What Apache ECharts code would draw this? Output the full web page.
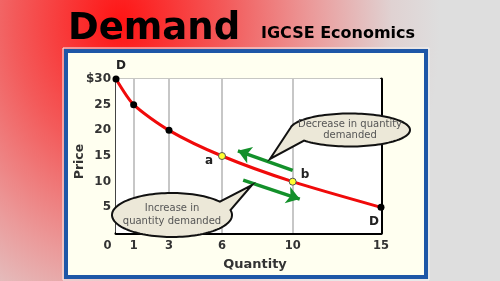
<!DOCTYPE html>
<html><head><meta charset="utf-8">
<script src="https://cdn.jsdelivr.net/npm/echarts@6/dist/echarts.min.js"></script>
<style>
html,body{margin:0;padding:0;width:500px;height:281px;overflow:hidden;}
body{background: radial-gradient(ellipse 320px 400px at 120px 22px, #ff1414 0%, #f35a5a 33%, #eb9a9a 60%, #e0d2d2 85%, #dedede 100%);}
#c{width:500px;height:281px;}
</style></head><body><div id="c"></div>
<script>
// ---- data ----
const quantity = [0, 1, 3, 6, 10, 15];
const price = [30, 25, 20, 15, 10, 5];
const pointLabels = ['D', '', '', 'a', 'b', 'D'];
const movePoints = [false, false, false, true, true, false];
const xTicks = [0, 1, 3, 6, 10, 15];
const yTicks = [0, 5, 10, 15, 20, 25, 30];
const yTickText = ['', '5', '10', '15', '20', '25', '$30'];
const decreaseArrow = [[10, 12.2], [6.9, 16]];
const increaseArrow = [[7.2, 10.3], [10.4, 6.6]];
const titleText = 'Demand';
const subtitleText = 'IGCSE Economics';
const decreaseText = 'Decrease in quantity\ndemanded';
const increaseText = 'Increase in\nquantity demanded';

// ---- styling ----
const labelPlacement = [
  {position: 'top', offset: [5, 1]},
  {}, {},
  {position: 'left', offset: [0, 5]},
  {position: 'right', offset: [-1, -7]},
  {position: 'bottom', offset: [-7, 0]}
];
const FONT = 'DejaVu Sans';

function calloutPoints(cx, cy, rx, ry, gapFrom, gapTo, tip) {
  const pts = [];
  const end = gapFrom + 360;
  for (let a = gapTo; a < end; a += 3) {
    const r = a * Math.PI / 180;
    pts.push([cx + rx * Math.cos(r), cy + ry * Math.sin(r)]);
  }
  const r = end * Math.PI / 180;
  pts.push([cx + rx * Math.cos(r), cy + ry * Math.sin(r)]);
  pts.push(tip);
  return pts;
}

const curveData = quantity.map((q, i) => {
  const item = {value: [q, price[i]]};
  if (movePoints[i]) {
    item.symbolSize = 7;
    item.itemStyle = {color: '#ffff30', borderColor: '#555', borderWidth: 1};
  }
  if (pointLabels[i]) {
    item.label = Object.assign({show: true, formatter: pointLabels[i]}, labelPlacement[i]);
  }
  return item;
});

const chart = echarts.init(document.getElementById('c'), null, {renderer: 'canvas'});
chart.setOption({
  backgroundColor: 'transparent',
  animation: false,
  grid: {left: 116, top: 79, width: 265, height: 154, show: true, backgroundColor: '#ffffff', borderWidth: 0, z: 1},
  xAxis: {
    type: 'value', min: 0, max: 15,
    name: 'Quantity', nameLocation: 'middle', nameGap: 25,
    nameTextStyle: {fontFamily: FONT, fontWeight: 'bold', fontSize: 13, color: '#333', padding: [0, 0, 0, 13]},
    axisLine: {show: true, onZero: false, lineStyle: {color: '#000', width: 3}},
    axisTick: {show: false},
    splitLine: {show: false},
    axisLabel: {
      customValues: xTicks, margin: 7,
      fontFamily: FONT, fontWeight: 'bold', fontSize: 11.5, color: '#333',
      formatter: v => v === 0 ? '{z|0}' : String(v),
      rich: {z: {fontFamily: FONT, fontWeight: 'bold', fontSize: 11.5, color: '#333', padding: [0, 17, 0, 0]}}
    }
  },
  yAxis: [{
    type: 'value', min: 0, max: 30, interval: 5,
    name: 'Price', nameLocation: 'middle', nameGap: 30, nameRotate: 90, nameMoveOverlap: false,
    nameTextStyle: {fontFamily: FONT, fontWeight: 'bold', fontSize: 12.5, color: '#333', padding: [0, 0, 0, -11]},
    axisLine: {show: true, onZero: false, lineStyle: {color: '#444', width: 2}},
    axisTick: {show: false},
    splitLine: {show: true, lineStyle: {color: '#b4b4b4', width: 1.5}},
    axisLabel: {
      margin: 5, fontFamily: FONT, fontWeight: 'bold', fontSize: 12, color: '#333',
      formatter: v => yTickText[yTicks.indexOf(v)] || ''
    }
  }, {
    type: 'value', min: 0, max: 30, position: 'right',
    axisLine: {show: true, onZero: false, lineStyle: {color: '#000', width: 3}},
    axisTick: {show: false}, axisLabel: {show: false}, splitLine: {show: false}
  }],
  series: [
    {
      type: 'line', data: [], z: 1, silent: true,
      markLine: {
        silent: true, symbol: 'none', label: {show: false},
        lineStyle: {color: '#b4b4b4', width: 1.5, type: 'solid'},
        data: xTicks.filter(v => v > 0 && v < 15).map(v => ({xAxis: v}))
      }
    },
    {
      type: 'line', data: [], z: 4, silent: true,
      markLine: {
        silent: true, symbol: ['none', 'arrow'], symbolSize: [13, 13], label: {show: false},
        lineStyle: {color: '#13902a', width: 3.5, type: 'solid'},
        data: [
          [{coord: decreaseArrow[0]}, {coord: decreaseArrow[1]}],
          [{coord: increaseArrow[0]}, {coord: increaseArrow[1]}]
        ]
      }
    },
    {
      type: 'line', data: curveData, smooth: 0.25, z: 5,
      lineStyle: {color: '#f00a0a', width: 3},
      symbol: 'circle', symbolSize: 7, showAllSymbol: true,
      itemStyle: {color: '#000'},
      label: {fontFamily: FONT, fontWeight: 'bold', fontSize: 12, color: '#222'}
    }
  ],
  graphic: [
    {type: 'text', left: 68, top: 11, z: 50, style: {text: titleText, fontFamily: FONT, fontWeight: 'bold', fontSize: 37, fill: '#000'}},
    {type: 'text', left: 261, top: 26, z: 50, style: {text: subtitleText, fontFamily: FONT, fontWeight: 'bold', fontSize: 16, fill: '#000'}},
    {type: 'rect', z: -10, shape: {x: 63, y: 48, width: 366, height: 232}, style: {fill: 'none', stroke: '#f2f2f2', lineWidth: 1}},
    {type: 'rect', z: -10, shape: {x: 66, y: 51, width: 360, height: 226}, style: {fill: '#fffff0', stroke: '#1e57a7', lineWidth: 4}},
    {type: 'polygon', z: 60, shape: {points: calloutPoints(350, 130, 60, 16.5, 140, 188, [270, 159])},
      style: {fill: '#ece8d8', stroke: '#111', lineWidth: 2}},
    {type: 'text', z: 61, x: 350, y: 130, style: {text: decreaseText, fontFamily: FONT, fontSize: 10, fill: '#555', align: 'center', verticalAlign: 'middle', lineHeight: 11}},
    {type: 'polygon', z: 60, shape: {points: calloutPoints(172, 215, 60, 22, 323, 347, [252, 185])},
      style: {fill: '#ece8d8', stroke: '#111', lineWidth: 2}},
    {type: 'text', z: 61, x: 172, y: 215, style: {text: increaseText, fontFamily: FONT, fontSize: 10, fill: '#555', align: 'center', verticalAlign: 'middle', lineHeight: 13}}
  ]
});
</script></body></html>
